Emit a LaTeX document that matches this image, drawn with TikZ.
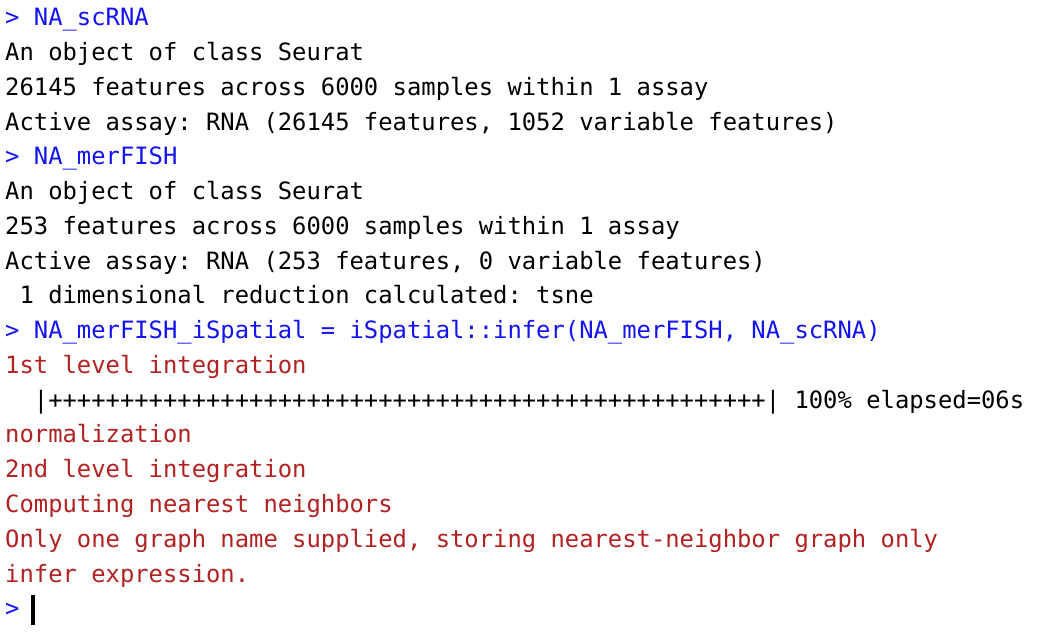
\documentclass[tikz,border=0pt]{standalone}
\usepackage{fontspec}
\setmonofont{DejaVu Sans Mono}
\definecolor{pblue}{RGB}{20,20,240}
\definecolor{pred}{RGB}{178,34,34}
\begin{document}
\begin{tikzpicture}[x=1pt,y=1pt,
  ln/.style={anchor=base west,inner sep=0pt,font=\ttfamily\fontsize{23.84}{28}\selectfont}]
\useasboundingbox[fill=white] (0,0) rectangle (1048,634);
\def\L#1#2#3{\node[ln,text=#2] (l#1) at (5,{634-26-34.75*#1}) {\detokenize{#3}};}
\L{0}{pblue}{> NA_scRNA}
\L{1}{black}{An object of class Seurat}
\L{2}{black}{26145 features across 6000 samples within 1 assay}
\L{3}{black}{Active assay: RNA (26145 features, 1052 variable features)}
\L{4}{pblue}{> NA_merFISH}
\L{5}{black}{An object of class Seurat}
\L{6}{black}{253 features across 6000 samples within 1 assay}
\L{7}{black}{Active assay: RNA (253 features, 0 variable features)}
\node[ln] (l8) at (5+14.35,{634-26-34.75*8}) {1 dimensional reduction calculated: tsne};
\L{9}{pblue}{> NA_merFISH_iSpatial = iSpatial::infer(NA_merFISH, NA_scRNA)}
\L{10}{pred}{1st level integration}
\node[ln] (l11) at (5+2*14.35,{634-26-34.75*11}) {|++++++++++++++++++++++++++++++++++++++++++++++++++| 100\% elapsed=06s};
\L{12}{pred}{normalization}
\L{13}{pred}{2nd level integration}
\L{14}{pred}{Computing nearest neighbors}
\L{15}{pred}{Only one graph name supplied, storing nearest-neighbor graph only}
\L{16}{pred}{infer expression.}
\L{17}{pblue}{>}
\fill[black] (31,{634-625}) rectangle (34.5,{634-595});
\end{tikzpicture}
\end{document}
